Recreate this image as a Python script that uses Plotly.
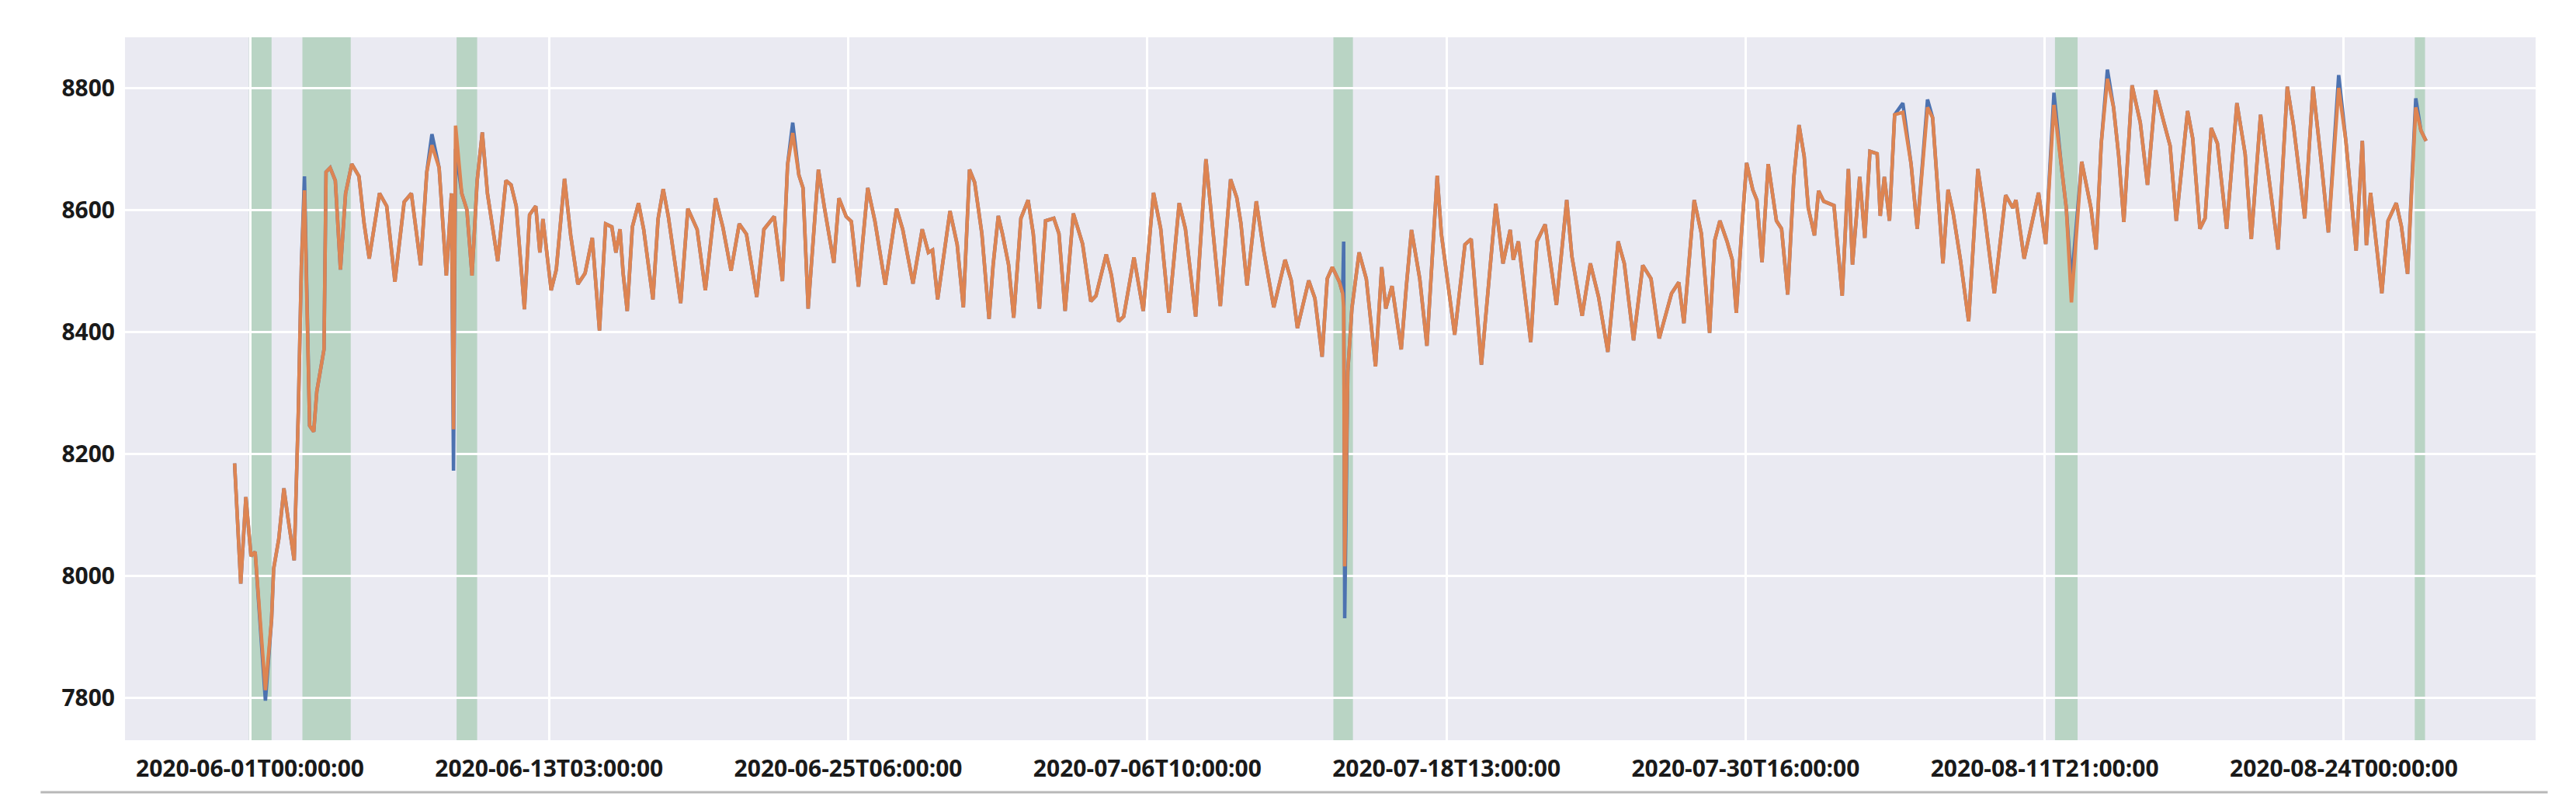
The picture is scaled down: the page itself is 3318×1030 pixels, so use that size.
import plotly.graph_objects as go

# hour index (position along the series) and the observed values (blue line)
hours = [
    0, 6, 11, 16, 20, 30, 36, 38, 43, 48, 52, 58, 62, 65, 68, 73, 77, 80, 87, 89,
    93, 98, 103, 108, 114, 121, 126, 131, 141, 148, 156, 165, 172, 181, 187, 192, 199, 206, 211, 213,
    215, 221, 226, 231, 236, 241, 246, 256, 264, 269, 274, 282, 287, 293, 297, 300, 308, 313, 321, 327,
    334, 341, 348, 355, 361, 367, 371, 375, 378, 382, 387, 393, 398, 407, 412, 417, 422, 427, 434, 441,
    450, 458, 468, 475, 483, 491, 498, 508, 515, 525, 533, 538, 543, 549, 553, 558, 568, 574, 583, 588,
    595, 600, 607, 616, 623, 633, 644, 650, 660, 669, 675, 679, 684, 696, 703, 709, 715, 720, 727, 734,
    738, 743, 747, 753, 758, 765, 772, 777, 783, 789, 797, 802, 808, 816, 825, 833, 838, 848, 853, 860,
    865, 875, 884, 894, 901, 909, 919, 925, 935, 945, 950, 959, 969, 975, 979, 985, 994, 1001, 1011, 1022,
    1028, 1034, 1045, 1051, 1058, 1063, 1068, 1075, 1078, 1079, 1080, 1083, 1087, 1094, 1101, 1110, 1116, 1120, 1126, 1135,
    1140, 1145, 1153, 1160, 1170, 1174, 1187, 1197, 1203, 1213, 1227, 1234, 1241, 1244, 1249, 1261, 1267, 1275, 1286, 1296,
    1301, 1311, 1319, 1327, 1336, 1346, 1352, 1361, 1370, 1378, 1386, 1398, 1405, 1410, 1420, 1427, 1435, 1440, 1445, 1452,
    1457, 1461, 1466, 1471, 1477, 1481, 1486, 1492, 1500, 1505, 1511, 1517, 1522, 1527, 1531, 1537, 1541, 1546, 1556, 1564,
    1570, 1574, 1581, 1586, 1591, 1598, 1601, 1605, 1610, 1615, 1623, 1628, 1631, 1637, 1647, 1652, 1662, 1667, 1672, 1679,
    1687, 1696, 1702, 1712, 1723, 1730, 1733, 1741, 1747, 1755, 1762, 1770, 1777, 1782, 1787, 1797, 1802, 1806, 1811, 1816,
    1822, 1828, 1833, 1838, 1846, 1854, 1861, 1869, 1877, 1883, 1889, 1895, 1900, 1905, 1912, 1917, 1923, 1929, 1938, 1948,
    1956, 1962, 1971, 1978, 1988, 1997, 2003, 2014, 2022, 2030, 2037, 2047, 2054, 2064, 2070, 2074, 2078, 2089, 2095, 2103,
    2108, 2114, 2122, 2127, 2132,
]

actual = [
    8184, 7987, 8129, 8032, 8039, 7795, 7928, 8011, 8060, 8143, 8094, 8025, 8267, 8509, 8655, 8246, 8236, 8302, 8371, 8662,
    8669, 8648, 8502, 8627, 8675, 8655, 8578, 8520, 8627, 8606, 8482, 8613, 8627, 8509, 8662, 8724, 8669, 8492, 8627, 8172,
    8700, 8627, 8600, 8492, 8648, 8727, 8627, 8516, 8648, 8641, 8606, 8437, 8592, 8606, 8530, 8585, 8468, 8502, 8651, 8558,
    8478, 8496, 8554, 8402, 8577, 8572, 8530, 8568, 8496, 8434, 8572, 8611, 8568, 8453, 8585, 8634, 8589, 8530, 8447, 8602,
    8568, 8468, 8619, 8572, 8500, 8577, 8560, 8457, 8568, 8589, 8483, 8674, 8743, 8657, 8636, 8438, 8666, 8602, 8513, 8619,
    8589, 8581, 8474, 8636, 8581, 8477, 8602, 8568, 8479, 8568, 8530, 8534, 8453, 8598, 8543, 8440, 8666, 8645, 8561, 8421,
    8510, 8590, 8561, 8510, 8423, 8586, 8616, 8561, 8438, 8582, 8586, 8561, 8434, 8594, 8544, 8450, 8459, 8527, 8493, 8417,
    8425, 8522, 8434, 8628, 8569, 8431, 8611, 8569, 8425, 8683, 8594, 8442, 8650, 8620, 8578, 8476, 8614, 8535, 8440, 8518,
    8484, 8406, 8484, 8455, 8359, 8487, 8506, 8481, 8463, 8548, 7930, 8334, 8438, 8530, 8487, 8343, 8506, 8438, 8475, 8371,
    8475, 8567, 8487, 8377, 8656, 8561, 8395, 8543, 8552, 8346, 8610, 8512, 8567, 8518, 8548, 8383, 8548, 8576, 8444, 8616,
    8524, 8426, 8512, 8457, 8367, 8548, 8512, 8386, 8509, 8487, 8389, 8463, 8481, 8414, 8616, 8561, 8398, 8550, 8582, 8548,
    8518, 8431, 8561, 8677, 8633, 8616, 8514, 8675, 8582, 8569, 8461, 8654, 8739, 8688, 8603, 8558, 8631, 8614, 8607, 8459,
    8667, 8510, 8654, 8554, 8696, 8692, 8590, 8654, 8582, 8756, 8775, 8709, 8675, 8569, 8781, 8751, 8512, 8633, 8594, 8518,
    8417, 8667, 8599, 8463, 8624, 8603, 8616, 8520, 8565, 8628, 8544, 8792, 8675, 8603, 8480, 8679, 8637, 8603, 8535, 8709,
    8830, 8768, 8688, 8580, 8804, 8743, 8641, 8796, 8743, 8705, 8582, 8688, 8762, 8717, 8569, 8586, 8734, 8709, 8569, 8775,
    8692, 8552, 8756, 8667, 8535, 8802, 8739, 8586, 8802, 8679, 8563, 8821, 8713, 8533, 8713, 8542, 8628, 8463, 8582, 8611,
    8573, 8495, 8783, 8730, 8713,
]

# predicted / reconstructed series (orange) differs from the observed one only at these hours
predicted_differs = {
    30: 7812, 68: 8632, 192: 8706, 213: 8240, 215: 8738, 543: 8726,
    1079: 8440, 1080: 8015, 1623: 8760, 1647: 8768, 1770: 8772, 1787: 8448,
    1822: 8815, 2047: 8800, 2122: 8768,
}
predicted = [predicted_differs.get(h, v) for h, v in zip(hours, actual)]

# shaded anomaly windows (hour index)
anomaly_start = [14, 66, 216, 1069, 1771, 2121]
anomaly_end = [36, 113, 236, 1088, 1793, 2131]

tick_hours = [15, 306, 597, 888, 1179, 1470, 1761, 2052]
tick_labels = [
    "2020-06-01T00:00:00", "2020-06-13T03:00:00", "2020-06-25T06:00:00",
    "2020-07-06T10:00:00", "2020-07-18T13:00:00", "2020-07-30T16:00:00",
    "2020-08-11T21:00:00", "2020-08-24T00:00:00",
]
y_ticks = [7800, 8000, 8200, 8400, 8600, 8800]

BLUE = "#4C72B0"
ORANGE = "#DD8452"

fig = go.Figure()
fig.add_trace(go.Scatter(x=hours, y=actual, mode="lines",
                         line=dict(color=BLUE, width=4.5), showlegend=False))
fig.add_trace(go.Scatter(x=hours, y=predicted, mode="lines",
                         line=dict(color=ORANGE, width=4.5), showlegend=False))

for s, e in zip(anomaly_start, anomaly_end):
    fig.add_shape(type="rect", xref="x", yref="paper", x0=s, x1=e, y0=0, y1=1,
                  fillcolor="rgba(85,168,104,0.33)", line=dict(width=0), layer="between")

# thin grey rule under the figure
fig.add_shape(type="line", xref="paper", yref="paper", x0=-0.035, x1=1.005,
              y0=-0.074, y1=-0.074, line=dict(color="#b8b8b8", width=3))

span = hours[-1] - hours[0]
font = dict(family="Open Sans", size=30, color="#1a1a1a", weight=700)

fig.update_layout(
    width=3318, height=1030,
    margin=dict(l=153, r=60, t=40, b=85, autoexpand=False),
    paper_bgcolor="white", plot_bgcolor="#EAEAF2",
    xaxis=dict(range=[hours[0] - 0.05 * span, hours[-1] + 0.05 * span],
               tickmode="array", tickvals=tick_hours, ticktext=tick_labels,
               showgrid=True, gridcolor="white", gridwidth=3, zeroline=False,
               showline=False, ticks="", tickfont=font, ticklabelstandoff=16),
    yaxis=dict(range=[7730, 8883], tickmode="array", tickvals=y_ticks,
               showgrid=True, gridcolor="white", gridwidth=3, zeroline=False,
               showline=False, ticks="", tickfont=font, ticklabelstandoff=12),
)

fig.write_html("out.html")
